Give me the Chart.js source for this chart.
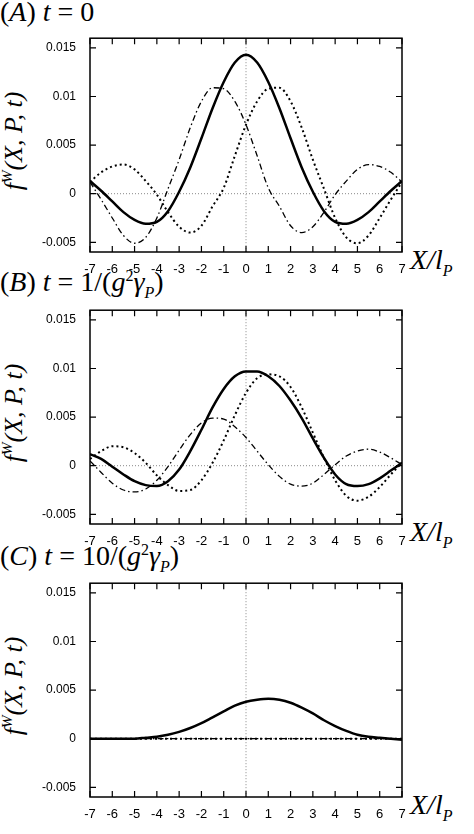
<!DOCTYPE html>
<html><head><meta charset="utf-8">
<script src="https://cdn.jsdelivr.net/npm/chart.js@4"></script>
<style>
body{margin:0;background:#fff;width:474px;height:834px;position:relative;overflow:hidden}
.t{position:absolute;font-family:"Liberation Serif","DejaVu Serif",serif;font-size:28px;color:#000;white-space:nowrap}
.i{font-style:italic}
.yl{position:absolute;font-family:"Liberation Serif",serif;font-size:26px;transform:rotate(-90deg);transform-origin:center;white-space:nowrap;width:200px;text-align:center}
canvas{position:absolute}
</style></head><body>
<div class="t" style="left:0;top:-4px">(<span class="i">A</span>) <span class="i">t</span> = 0</div>
<div class="t" style="left:0;top:266px">(<span class="i">B</span>) <span class="i">t</span> = 1/(<span class="i">g</span><sup style="font-size:16px">2</sup><span class="i">γ<sub style="font-size:16px">P</sub></span>)</div>
<div class="t" style="left:0;top:540px">(<span class="i">C</span>) <span class="i">t</span> = 10/(<span class="i">g</span><sup style="font-size:16px">2</sup><span class="i">γ<sub style="font-size:16px">P</sub></span>)</div>
<div class="yl i" style="left:-86px;top:126px">f<sup style="font-size:15px">W</sup>(X, P, t)</div>
<div class="yl i" style="left:-86px;top:398px">f<sup style="font-size:15px">W</sup>(X, P, t)</div>
<div class="yl i" style="left:-86px;top:671px">f<sup style="font-size:15px">W</sup>(X, P, t)</div>
<div class="t i" style="left:410px;top:244px">X/l<sub style="font-size:16px">P</sub></div>
<div class="t i" style="left:410px;top:516px">X/l<sub style="font-size:16px">P</sub></div>
<div class="t i" style="left:410px;top:789px">X/l<sub style="font-size:16px">P</sub></div>
<canvas id="cA" style="left:40px;top:25px"></canvas>
<canvas id="cB" style="left:40px;top:297px"></canvas>
<canvas id="cC" style="left:40px;top:570px"></canvas>
<script>
const xs=[-7,-6.5,-6,-5.5,-5,-4.5,-4,-3.5,-3,-2.5,-2,-1.5,-1,-0.5,0,0.5,1,1.5,2,2.5,3,3.5,4,4.5,5,5.5,6,6.5,7];
const yTicks=[-0.005,0,0.005,0.01,0.015];
const xTicks=[-7,-6,-5,-4,-3,-2,-1,0,1,2,3,4,5,6,7];
const aSolid=[0.0013,0.0003,-0.0008,-0.0019,-0.0027,-0.0031,-0.0029,-0.0018,0.0002,0.0027,0.0057,0.0088,0.0115,0.0135,0.0143,0.0135,0.0115,0.0088,0.0057,0.0027,0.0002,-0.0018,-0.0029,-0.0031,-0.0027,-0.0019,-0.0008,0.0003,0.0013];
const aDot=[0.0012,0.0022,0.0028,0.003,0.0025,0.0013,-0.0001,-0.0019,-0.0034,-0.004,-0.0033,-0.0013,0.0006,0.0039,0.0071,0.0095,0.0108,0.0109,0.0095,0.0068,0.0035,0.0005,-0.0025,-0.0045,-0.0051,-0.0043,-0.0025,-0.0006,0.0012];
const aDash=[0.0012,-0.0006,-0.0025,-0.0043,-0.0051,-0.0045,-0.0025,0.0005,0.0035,0.0068,0.0095,0.0109,0.0108,0.0095,0.0071,0.0039,0.0006,-0.0013,-0.0033,-0.004,-0.0034,-0.0019,-0.0001,0.0013,0.0025,0.003,0.0028,0.0022,0.0012];
const bSolid=[0.0012,0.0007,-0.0001,-0.0009,-0.0016,-0.002,-0.0021,-0.0016,-0.0004,0.0015,0.0037,0.006,0.0079,0.0092,0.0097,0.0097,0.0092,0.0082,0.0067,0.0049,0.0028,0.0008,-0.0009,-0.0019,-0.0021,-0.0019,-0.0013,-0.0005,0.0003];
const bDot=[0.0007,0.0015,0.002,0.0019,0.0013,0.0003,-0.001,-0.002,-0.0026,-0.0025,-0.0015,0.0003,0.0026,0.0052,0.0075,0.009,0.0094,0.0092,0.0081,0.006,0.0034,0.0008,-0.0015,-0.0031,-0.0036,-0.0032,-0.0022,-0.0009,0.0003];
const bDash=[0.0005,-0.0007,-0.0018,-0.0025,-0.0027,-0.0024,-0.0015,-0.0001,0.0016,0.0032,0.0044,0.0049,0.0048,0.004,0.0029,0.0015,0.0001,-0.0011,-0.0019,-0.0021,-0.0018,-0.0009,0.0001,0.001,0.0015,0.0017,0.0014,0.0008,0.0001];
const cSolid=[0,0,0,0,0,0.0001,0.0002,0.0004,0.0007,0.0011,0.0016,0.0022,0.0028,0.0034,0.0038,0.0040,0.0041,0.0040,0.0037,0.0032,0.0026,0.0019,0.0013,0.0008,0.0004,0.0002,0.0001,0,-0.0001];
const cDot=xs.map(()=>0);
const cDash=xs.map(()=>0);

const frame={id:'frame',beforeDatasetsDraw(ch){
  const c=ch.ctx,a=ch.chartArea,x=ch.scales.x,y=ch.scales.y;
  c.save();c.strokeStyle='#888';c.lineWidth=1;c.setLineDash([1,2]);
  c.beginPath();c.moveTo(x.getPixelForValue(0),a.top);c.lineTo(x.getPixelForValue(0),a.bottom);
  c.moveTo(a.left,y.getPixelForValue(0));c.lineTo(a.right,y.getPixelForValue(0));c.stroke();
  c.setLineDash([]);c.strokeStyle='#000';c.lineWidth=1.2;
  c.beginPath();
  xTicks.forEach(v=>{const p=x.getPixelForValue(v);c.moveTo(p,a.bottom);c.lineTo(p,a.bottom-6);c.moveTo(p,a.top);c.lineTo(p,a.top+6);});
  yTicks.forEach(v=>{const p=y.getPixelForValue(v);c.moveTo(a.left,p);c.lineTo(a.left+6,p);c.moveTo(a.right,p);c.lineTo(a.right-6,p);});
  c.stroke();c.lineWidth=1.5;c.strokeRect(a.left,a.top,a.right-a.left,a.bottom-a.top);c.restore();}};

function make(id,s,d,dd){
  const el=document.getElementById(id);
  const common={pointRadius:0,cubicInterpolationMode:'monotone',fill:false,borderColor:'#000'};
  new Chart(el,{type:'line',
    data:{datasets:[
      Object.assign({data:xs.map((x,i)=>({x,y:dd[i]})),borderWidth:1.3,borderDash:[6,3,1.5,3]},common),
      Object.assign({data:xs.map((x,i)=>({x,y:d[i]})),borderWidth:2,borderDash:[2,3]},common),
      Object.assign({data:xs.map((x,i)=>({x,y:s[i]})),borderWidth:2.5},common)]},
    options:{responsive:false,animation:false,devicePixelRatio:1,
      layout:{padding:{top:5,right:18,left:0,bottom:0}},
      plugins:{legend:{display:false},tooltip:{enabled:false}},
      scales:{
        x:{type:'linear',min:-7,max:7,border:{display:false},grid:{display:false},
          afterBuildTicks:a=>{a.ticks=xTicks.map(v=>({value:v}));},
          afterFit:a=>{a.height=24;},
          ticks:{color:'#000',font:{family:'Liberation Sans',size:13},padding:2,maxRotation:0,autoSkip:false}},
        y:{min:-0.006,max:0.016,border:{display:false},grid:{display:false},
          afterBuildTicks:a=>{a.ticks=yTicks.map(v=>({value:v}));},
          afterFit:a=>{a.width=50;},
          ticks:{color:'#000',font:{family:'Liberation Sans',size:12},padding:6,callback:v=>String(+v.toFixed(3))}}}},
    plugins:[frame]});
}
['cA','cB','cC'].forEach(id=>{const e=document.getElementById(id);e.width=380;e.height=251;});
make('cA',aSolid,aDot,aDash);
make('cB',bSolid,bDot,bDash);
make('cC',cSolid,cDot,cDash);
</script></body></html>
